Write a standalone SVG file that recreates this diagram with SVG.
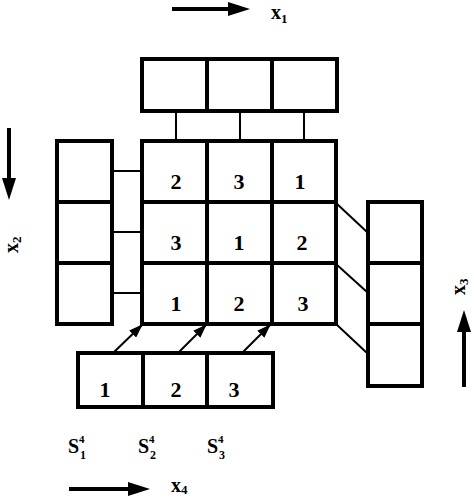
<svg xmlns="http://www.w3.org/2000/svg" width="474" height="498" viewBox="0 0 474 498">
<defs>
<style>
.box{fill:#fff;stroke:#000;stroke-width:4}
.div{stroke:#000;stroke-width:4}
.con{stroke:#000;stroke-width:2;fill:none}
.axis{stroke:#000;stroke-width:4;fill:none}
.num{font-family:"Liberation Serif","Times New Roman",serif;font-weight:bold;font-size:22px;text-anchor:middle;fill:#000}
.lbl{font-family:"Liberation Serif","Times New Roman",serif;font-weight:bold;font-size:20px;fill:#000}
.s{font-family:"Liberation Serif","Times New Roman",serif;font-weight:bold;font-size:20px;fill:#000}
</style>
<marker id="bigHead" markerUnits="userSpaceOnUse" markerWidth="22" markerHeight="14" refX="8" refY="7" orient="auto">
<path d="M0,0 L22,7 L0,14 z" fill="#000"/>
</marker>
<marker id="smallHead" markerUnits="userSpaceOnUse" markerWidth="14" markerHeight="10" refX="13" refY="5" orient="auto">
<path d="M0,0 L14,5 L0,10 z" fill="#000"/>
</marker>
</defs>
<rect width="474" height="498" fill="#fff"/>

<g id="connectors">
<line class="con" x1="176" y1="111" x2="176" y2="141"/>
<line class="con" x1="240" y1="111" x2="240" y2="141"/>
<line class="con" x1="304" y1="111" x2="304" y2="141"/>
<line class="con" x1="112" y1="171" x2="142" y2="171"/>
<line class="con" x1="112" y1="232" x2="142" y2="232"/>
<line class="con" x1="112" y1="293" x2="142" y2="293"/>
<line class="con" x1="336" y1="203" x2="367" y2="232"/>
<line class="con" x1="336" y1="264" x2="367" y2="292"/>
<line class="con" x1="336" y1="324" x2="367" y2="353"/>
<line class="con" x1="113" y1="353" x2="142" y2="325" marker-end="url(#smallHead)"/>
<line class="con" x1="178" y1="353" x2="206" y2="325" marker-end="url(#smallHead)"/>
<line class="con" x1="242" y1="353" x2="270" y2="325" marker-end="url(#smallHead)"/>
</g>

<g id="top-box">
<rect class="box" x="142" y="59" width="195" height="52"/>
<line class="div" x1="207" y1="59" x2="207" y2="111"/>
<line class="div" x1="272" y1="59" x2="272" y2="111"/>
</g>

<g id="main-grid">
<rect class="box" x="142" y="141" width="194" height="183"/>
<line class="div" x1="207" y1="141" x2="207" y2="324"/>
<line class="div" x1="272" y1="141" x2="272" y2="324"/>
<line class="div" x1="142" y1="202" x2="336" y2="202"/>
<line class="div" x1="142" y1="263" x2="336" y2="263"/>
<text class="num" x="176" y="189">2</text>
<text class="num" x="239" y="189">3</text>
<text class="num" x="300" y="189">1</text>
<text class="num" x="176" y="250">3</text>
<text class="num" x="239" y="250">1</text>
<text class="num" x="302" y="250">2</text>
<text class="num" x="176" y="311">1</text>
<text class="num" x="239" y="311">2</text>
<text class="num" x="303" y="311">3</text>
</g>

<g id="left-box">
<rect class="box" x="57" y="141" width="55" height="183"/>
<line class="div" x1="57" y1="202" x2="112" y2="202"/>
<line class="div" x1="57" y1="263" x2="112" y2="263"/>
</g>

<g id="right-box">
<rect class="box" x="368" y="202" width="54" height="184"/>
<line class="div" x1="368" y1="263" x2="422" y2="263"/>
<line class="div" x1="368" y1="324" x2="422" y2="324"/>
</g>

<g id="bottom-box">
<rect class="box" x="78" y="353" width="195" height="54"/>
<line class="div" x1="143" y1="353" x2="143" y2="407"/>
<line class="div" x1="207" y1="353" x2="207" y2="407"/>
<text class="num" x="105" y="397">1</text>
<text class="num" x="176" y="397">2</text>
<text class="num" x="234" y="397">3</text>
</g>

<g id="axis-x1">
<line class="axis" x1="172" y1="9" x2="236" y2="9" marker-end="url(#bigHead)"/>
<text class="lbl" x="271" y="19">x<tspan font-size="13" dy="4">1</tspan></text>
</g>
<g id="axis-x2">
<line class="axis" x1="9" y1="128" x2="9" y2="186" marker-end="url(#bigHead)"/>
<text class="lbl" transform="translate(18,253) rotate(-90)">x<tspan font-size="13" dy="3">2</tspan></text>
</g>
<g id="axis-x3">
<line class="axis" x1="464" y1="387" x2="464" y2="324" marker-end="url(#bigHead)"/>
<text class="lbl" transform="translate(465,295) rotate(-90)">x<tspan font-size="13" dy="3">3</tspan></text>
</g>
<g id="axis-x4">
<line class="axis" x1="69" y1="489" x2="136" y2="489" marker-end="url(#bigHead)"/>
<text class="lbl" x="171" y="492">x<tspan font-size="13" dy="2">4</tspan></text>
</g>

<g id="s-labels">
<text class="s" x="68" y="453">S<tspan font-size="11" x="79" y="443">4</tspan><tspan font-size="12" x="80" y="459">1</tspan></text>
<text class="s" x="138" y="453">S<tspan font-size="11" x="149" y="443">4</tspan><tspan font-size="12" x="150" y="459">2</tspan></text>
<text class="s" x="207" y="453">S<tspan font-size="11" x="218" y="443">4</tspan><tspan font-size="12" x="219" y="459">3</tspan></text>
</g>
</svg>
